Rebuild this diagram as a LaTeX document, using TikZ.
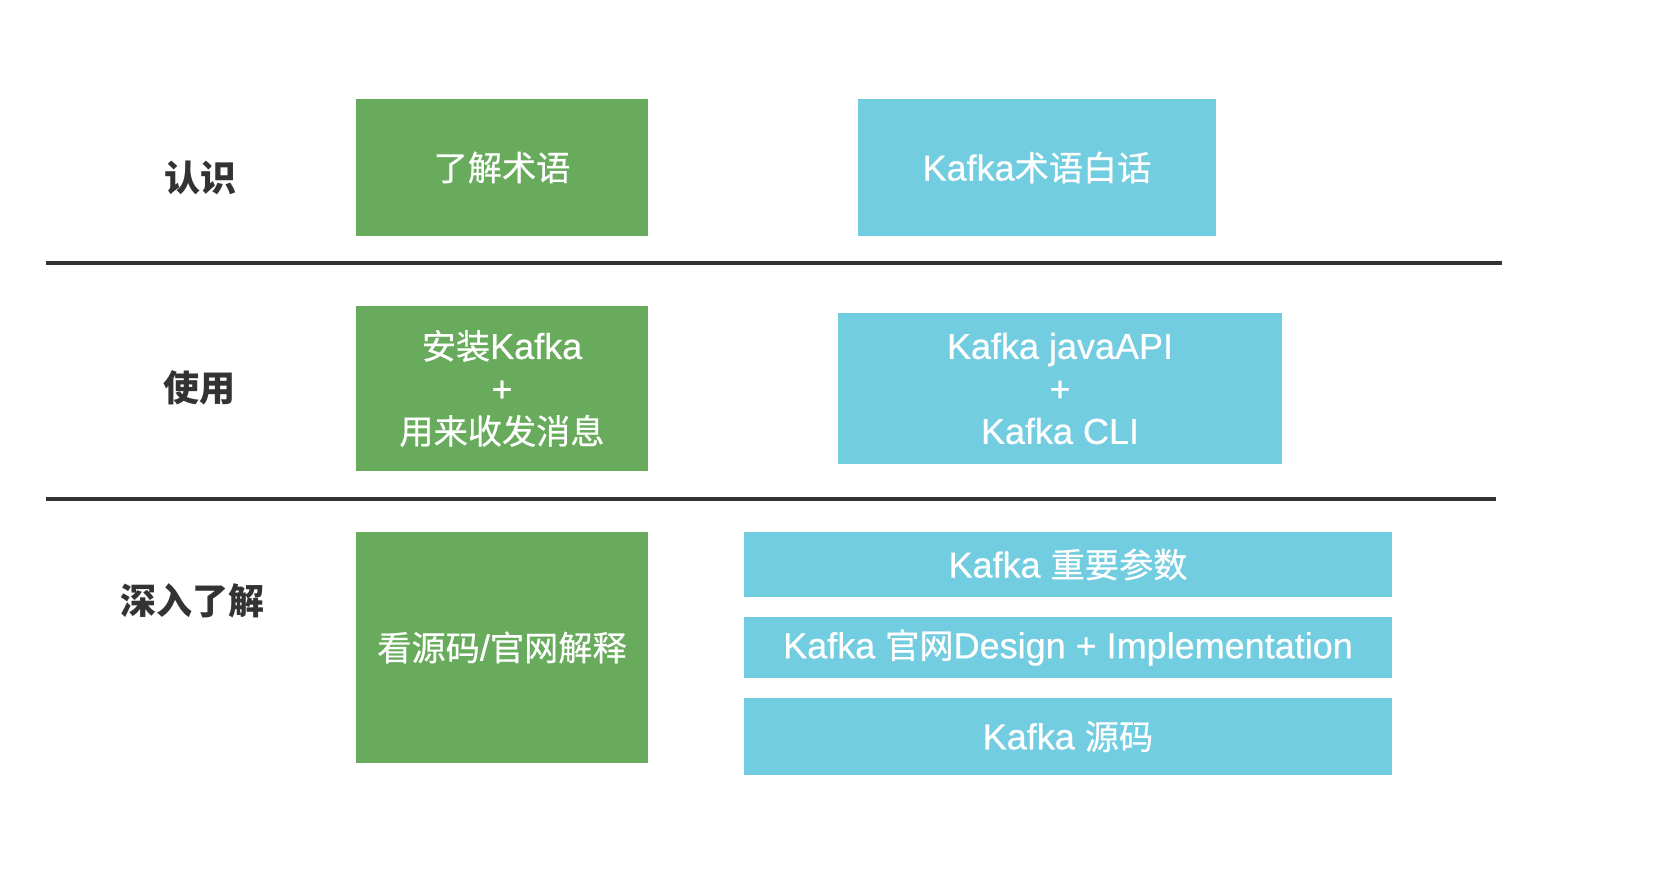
\documentclass[tikz,border=0pt]{standalone}
\usepackage{fontspec}
\setmainfont{Liberation Sans}
\newfontfamily\cjk{Noto Sans CJK SC}
\newfontfamily\boxfont[FakeBold=0.5]{Liberation Sans}
\newfontfamily\cjkbox[Scale=0.95,FakeBold=0.5]{Noto Sans CJK SC}
\definecolor{kgreen}{HTML}{68AB5C}
\definecolor{kblue}{HTML}{73CDE0}
\definecolor{kgray}{HTML}{333333}
\tikzset{
  boxtext/.style={text=white, inner sep=0pt, align=center, font=\boxfont\fontsize{36}{42.5}\selectfont},
  greenbox/.style={boxtext, fill=kgreen, minimum width=292pt},
  bluebox/.style={boxtext, fill=kblue},
  rowlabel/.style={text=kgray, font=\cjk\bfseries\fontsize{36}{42.5}\selectfont},
  sepline/.style={draw=kgray, line width=4pt}
}
\begin{document}
\begin{tikzpicture}[x=1pt,y=-1pt]
    \useasboundingbox (0,0) rectangle (1668,894);
    % row labels
    \node[rowlabel] (lknow) at (200,178) {认识};
    \node[rowlabel] (luse) at (199,388) {使用};
    \node[rowlabel] (ldeep) at (192,601) {深入了解};
    % separators
    \draw[sepline] (46,263) -- (1502,263);
    \draw[sepline] (46,499) -- (1496,499);
    % row 1
    \node[greenbox, minimum height=137pt] (know) at (502,167.5) {{\cjkbox 了解术语}};
    \node[bluebox, minimum width=358pt, minimum height=137pt] (knowterms) at (1037,167.5) {Kafka{\cjkbox 术语白话}};
    % row 2
    \node[greenbox, minimum height=165pt] (use) at (502,388.5) {{\cjkbox 安装}Kafka\\+\\{\cjkbox 用来收发消息}};
    \node[bluebox, minimum width=444pt, minimum height=151pt] (useapi) at (1060,388.5) {Kafka javaAPI\\+\\Kafka CLI};
    % row 3
    \node[greenbox, minimum height=231pt] (deep) at (502,647.5) {{\cjkbox 看源码}/{\cjkbox 官网解释}};
    \node[bluebox, minimum width=648pt, minimum height=65pt] (params) at (1068,564.5) {Kafka {\cjkbox 重要参数}};
    \node[bluebox, minimum width=648pt, minimum height=61pt] (design) at (1068,647.5) {Kafka {\cjkbox 官网}Design + Implementation};
    \node[bluebox, minimum width=648pt, minimum height=77pt] (source) at (1068,736.5) {Kafka {\cjkbox 源码}};
\end{tikzpicture}
\end{document}
